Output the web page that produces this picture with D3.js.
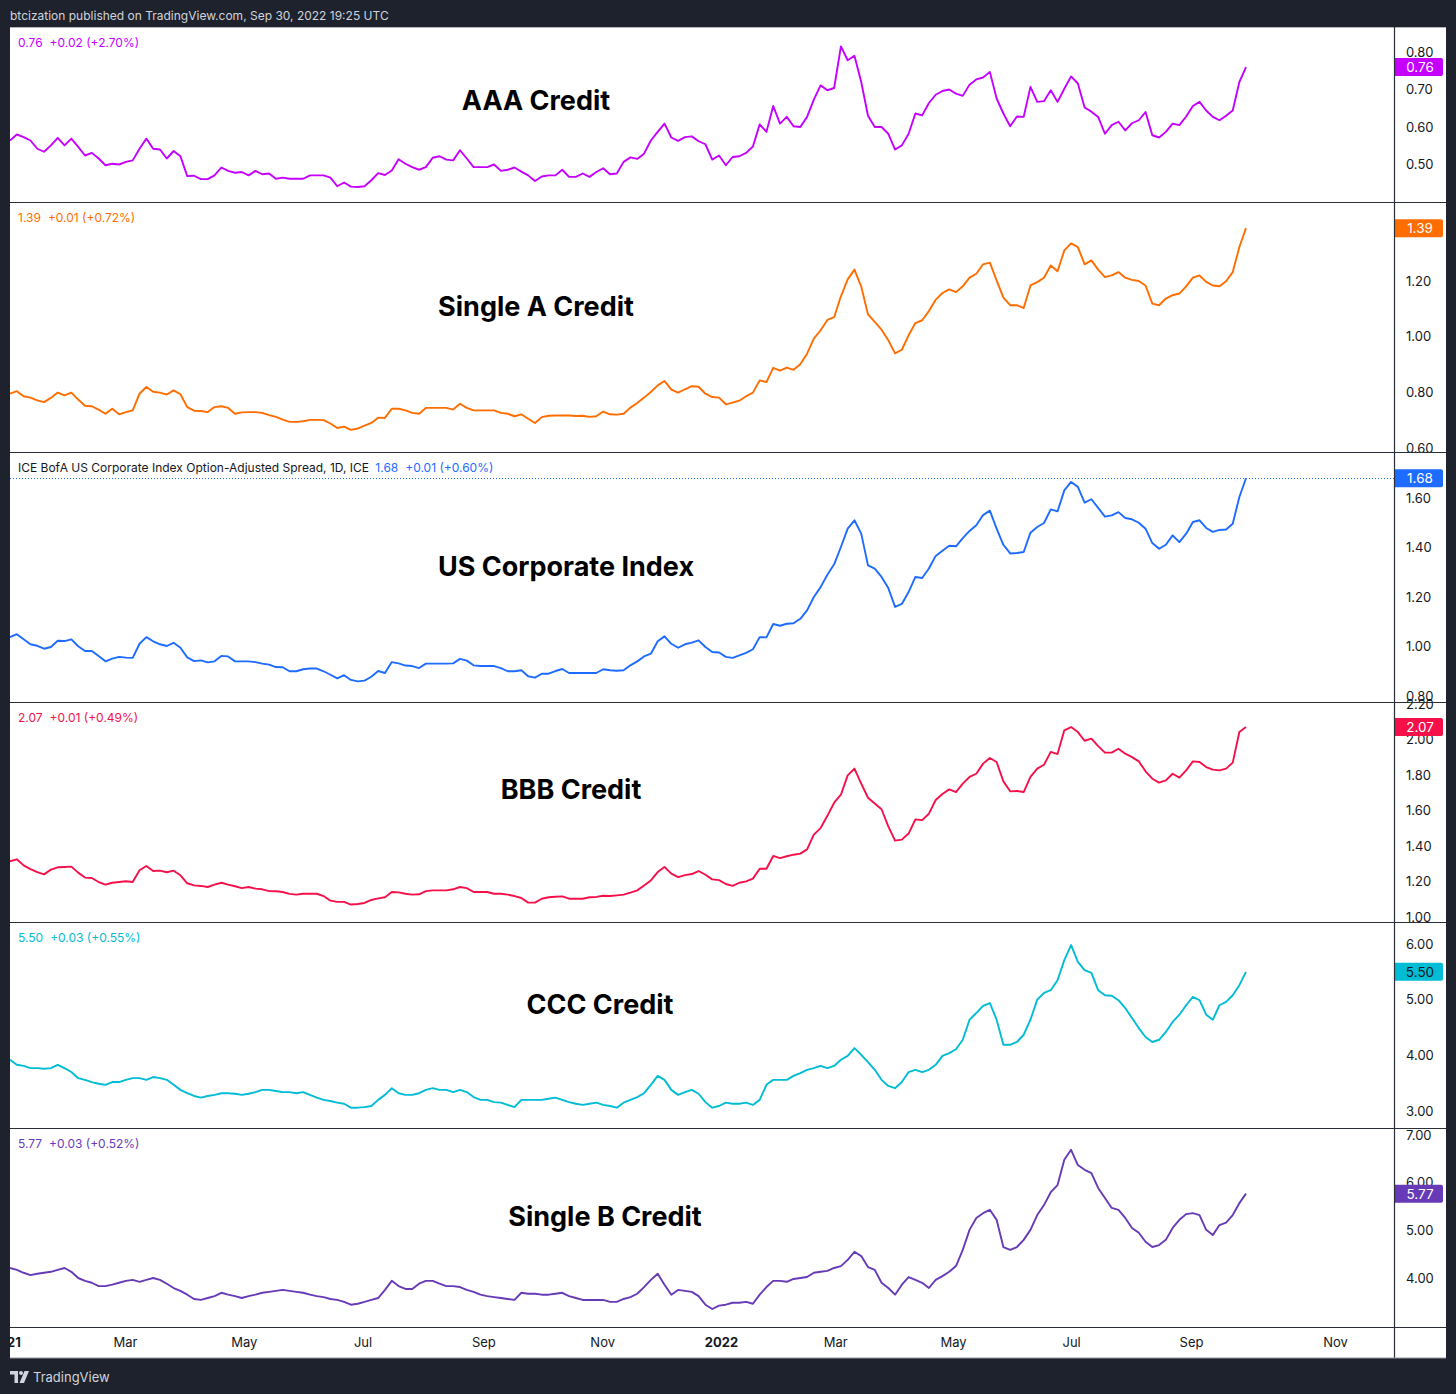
<!DOCTYPE html>
<html><head><meta charset="utf-8">
<script src="https://cdn.jsdelivr.net/npm/d3@7"></script>
<style>
body{margin:0;background:#1e222d;}
svg{display:block;font-family:Inter,"Noto Sans",sans-serif;}
</style>
</head><body>
<svg id="c" width="1456" height="1394"></svg>
<script>
// ---------- DATA ----------
// Readings on Fridays from 2021-01-01 (weekly) and readings half a week later (mid).
const firstDate = "2021-01-01";
const aaaWeek = [0.564,0.573,0.542,0.551,0.551,0.547,0.531,0.498,0.50,0.511,
0.569,0.54,0.536,0.469,0.461,0.471,0.483,0.48,0.483,0.476,
0.465,0.462,0.471,0.471,0.442,0.441,0.442,0.477,0.484,0.502,
0.486,0.518,0.513,0.538,0.493,0.493,0.483,0.492,0.471,0.468,
0.471,0.467,0.476,0.48,0.474,0.507,0.515,0.564,0.609,0.563,
0.575,0.554,0.524,0.52,0.531,0.607,0.656,0.627,0.60,0.673,
0.698,0.815,0.79,0.63,0.60,0.54,0.582,0.631,0.686,0.70,
0.683,0.727,0.747,0.636,0.628,0.707,0.669,0.667,0.735,0.652,
0.627,0.605,0.591,0.618,0.578,0.587,0.605,0.656,0.644,0.618,
0.644,0.76];
const aaaMid = [0.580,0.564,0.534,0.571,0.569,0.524,0.516,0.502,0.507,0.542,
0.542,0.516,0.522,0.470,0.461,0.492,0.478,0.471,0.474,0.462,
0.462,0.462,0.471,0.465,0.452,0.44,0.458,0.472,0.514,0.493,
0.493,0.522,0.511,0.516,0.493,0.50,0.486,0.481,0.456,0.471,
0.486,0.467,0.467,0.49,0.476,0.519,0.529,0.587,0.572,0.573,
0.562,0.513,0.498,0.522,0.548,0.587,0.609,0.602,0.627,0.711,
0.704,0.778,0.72,0.60,0.582,0.551,0.636,0.664,0.696,0.689,
0.713,0.732,0.676,0.602,0.627,0.667,0.698,0.702,0.716,0.641,
0.582,0.614,0.61,0.64,0.572,0.609,0.628,0.667,0.627,0.63,
0.72];
const singleAWeek = [0.795,0.786,0.771,0.78,0.789,0.774,0.75,0.723,0.721,0.735,
0.819,0.799,0.807,0.747,0.733,0.747,0.744,0.728,0.729,0.718,
0.702,0.694,0.701,0.70,0.672,0.665,0.68,0.709,0.741,0.735,
0.723,0.744,0.744,0.759,0.735,0.735,0.726,0.714,0.705,0.711,
0.717,0.717,0.716,0.714,0.721,0.723,0.762,0.801,0.841,0.799,
0.822,0.795,0.781,0.763,0.786,0.843,0.888,0.889,0.901,0.993,
1.06,1.145,1.241,1.08,1.025,0.94,1.005,1.059,1.133,1.17,
1.181,1.226,1.266,1.14,1.113,1.184,1.212,1.235,1.335,1.26,
1.241,1.22,1.212,1.20,1.119,1.137,1.155,1.212,1.197,1.181,
1.232,1.39];
const singleAMid = [0.804,0.781,0.765,0.799,0.799,0.752,0.738,0.741,0.729,0.795,
0.802,0.792,0.793,0.734,0.729,0.75,0.723,0.729,0.726,0.712,
0.694,0.696,0.701,0.688,0.677,0.67,0.69,0.708,0.741,0.726,
0.744,0.744,0.738,0.744,0.735,0.735,0.723,0.721,0.69,0.716,
0.717,0.715,0.712,0.731,0.72,0.745,0.781,0.825,0.81,0.811,
0.82,0.783,0.757,0.77,0.799,0.837,0.878,0.881,0.939,1.023,
1.07,1.206,1.18,1.053,0.987,0.953,1.049,1.092,1.157,1.16,
1.212,1.26,1.202,1.113,1.103,1.196,1.256,1.31,1.322,1.274,
1.214,1.232,1.204,1.184,1.113,1.149,1.181,1.22,1.184,1.199,
1.322];
const usCorpWeek = [1.038,1.029,1.003,0.998,1.022,1.001,0.982,0.94,0.958,0.954,
1.038,1.009,1.015,0.956,0.944,0.94,0.96,0.94,0.937,0.927,
0.916,0.90,0.911,0.90,0.871,0.865,0.862,0.901,0.937,0.923,
0.913,0.931,0.931,0.95,0.924,0.921,0.913,0.90,0.88,0.89,
0.901,0.893,0.893,0.893,0.904,0.904,0.94,0.971,1.041,0.995,
1.016,0.998,0.976,0.954,0.974,1.038,1.091,1.092,1.112,1.20,
1.29,1.402,1.51,1.328,1.281,1.16,1.22,1.277,1.366,1.407,
1.438,1.49,1.549,1.411,1.378,1.46,1.499,1.546,1.665,1.581,
1.56,1.53,1.519,1.50,1.418,1.411,1.422,1.503,1.479,1.471,
1.496,1.68];
const usCorpMid = [1.05,1.009,0.991,1.023,1.029,0.982,0.962,0.951,0.955,1.011,
1.021,1.002,0.995,0.941,0.936,0.962,0.94,0.94,0.931,0.917,
0.90,0.908,0.911,0.886,0.884,0.859,0.878,0.893,0.932,0.921,
0.931,0.931,0.932,0.943,0.921,0.921,0.90,0.904,0.874,0.89,
0.909,0.893,0.893,0.908,0.902,0.924,0.96,1.021,1.011,1.009,
1.025,0.978,0.958,0.964,0.989,1.037,1.084,1.094,1.146,1.24,
1.332,1.476,1.456,1.315,1.236,1.172,1.281,1.315,1.387,1.405,
1.467,1.531,1.476,1.376,1.382,1.483,1.554,1.631,1.645,1.595,
1.525,1.543,1.514,1.476,1.395,1.449,1.456,1.51,1.463,1.473,
1.604];
const bbbWeek = [1.314,1.291,1.253,1.267,1.282,1.25,1.22,1.182,1.197,1.197,
1.287,1.261,1.261,1.19,1.175,1.182,1.182,1.163,1.16,1.146,
1.141,1.126,1.131,1.118,1.085,1.07,1.079,1.105,1.141,1.131,
1.128,1.15,1.15,1.169,1.141,1.141,1.131,1.118,1.081,1.103,
1.114,1.103,1.103,1.113,1.118,1.126,1.15,1.206,1.282,1.225,
1.242,1.238,1.208,1.175,1.201,1.272,1.344,1.342,1.357,1.464,
1.57,1.689,1.836,1.672,1.607,1.43,1.47,1.546,1.659,1.719,
1.751,1.807,1.896,1.764,1.71,1.789,1.858,1.918,2.07,1.993,
1.963,1.926,1.92,1.877,1.779,1.77,1.785,1.877,1.845,1.826,
1.87,2.07];
const bbbMid = [1.325,1.27,1.24,1.28,1.284,1.222,1.197,1.193,1.201,1.263,
1.259,1.252,1.235,1.178,1.169,1.193,1.173,1.169,1.156,1.145,
1.13,1.131,1.131,1.092,1.085,1.073,1.096,1.111,1.139,1.126,
1.146,1.15,1.156,1.163,1.141,1.131,1.126,1.107,1.081,1.111,
1.116,1.103,1.111,1.12,1.122,1.137,1.178,1.253,1.244,1.236,
1.259,1.212,1.186,1.193,1.216,1.272,1.332,1.351,1.381,1.501,
1.644,1.798,1.751,1.639,1.511,1.436,1.55,1.582,1.693,1.704,
1.789,1.864,1.873,1.708,1.704,1.836,1.93,2.052,2.042,2.005,
1.926,1.948,1.901,1.821,1.757,1.807,1.826,1.873,1.83,1.836,
2.042];
const cccWeek = [3.92,3.81,3.77,3.77,3.77,3.59,3.52,3.47,3.52,3.59,
3.56,3.59,3.47,3.32,3.24,3.29,3.32,3.29,3.34,3.38,
3.34,3.32,3.29,3.2,3.15,3.06,3.07,3.2,3.41,3.29,
3.32,3.41,3.38,3.38,3.25,3.2,3.15,3.07,3.2,3.2,
3.24,3.16,3.11,3.15,3.09,3.15,3.25,3.47,3.56,3.29,
3.38,3.16,3.09,3.13,3.15,3.2,3.56,3.56,3.68,3.77,
3.77,3.92,4.13,3.88,3.56,3.41,3.70,3.70,3.83,4.04,
4.28,4.76,4.94,4.19,4.24,4.64,5.12,5.35,5.98,5.53,
5.17,5.07,4.85,4.49,4.24,4.42,4.73,5.05,4.73,4.9,
5.08,5.50];
const cccMid = [3.83,3.77,3.76,3.83,3.70,3.56,3.49,3.52,3.56,3.59,
3.61,3.56,3.38,3.27,3.27,3.32,3.31,3.31,3.38,3.36,
3.34,3.34,3.24,3.18,3.13,3.06,3.09,3.29,3.32,3.29,
3.38,3.38,3.34,3.34,3.2,3.16,3.11,3.2,3.2,3.22,
3.2,3.13,3.13,3.11,3.06,3.2,3.32,3.63,3.38,3.34,
3.31,3.06,3.15,3.13,3.11,3.47,3.56,3.63,3.74,3.81,
3.81,3.99,4.01,3.74,3.45,3.52,3.74,3.74,3.99,4.11,
4.64,4.89,4.64,4.19,4.37,5.0,5.17,5.71,5.68,5.48,
5.08,4.99,4.67,4.33,4.28,4.60,4.90,4.99,4.64,4.96,
5.26];
const singleBWeek = [4.21,4.11,4.09,4.13,4.21,4.0,3.9,3.83,3.9,3.96,
3.96,3.96,3.79,3.65,3.54,3.62,3.65,3.58,3.65,3.71,
3.75,3.71,3.65,3.6,3.54,3.44,3.5,3.58,3.94,3.77,
3.88,3.94,3.83,3.81,3.71,3.62,3.58,3.54,3.67,3.65,
3.67,3.62,3.54,3.54,3.5,3.56,3.67,3.96,3.86,3.75,
3.71,3.44,3.42,3.48,3.5,3.65,3.94,3.92,4.0,4.11,
4.15,4.25,4.55,4.23,3.9,3.65,4.02,3.9,3.96,4.13,
4.59,5.26,5.43,4.65,4.65,5.01,5.53,5.95,6.69,6.27,
5.89,5.47,5.26,4.95,4.65,4.80,5.22,5.36,5.01,5.11,
5.32,5.77];
const singleBMid = [4.17,4.06,4.11,4.17,4.13,3.94,3.83,3.86,3.94,3.92,
4.0,3.88,3.73,3.56,3.58,3.69,3.62,3.62,3.69,3.73,
3.73,3.69,3.62,3.56,3.5,3.46,3.54,3.75,3.83,3.77,
3.94,3.88,3.83,3.75,3.65,3.60,3.56,3.69,3.67,3.65,
3.69,3.58,3.54,3.54,3.5,3.6,3.81,4.09,3.65,3.73,
3.62,3.35,3.44,3.48,3.46,3.81,3.94,3.98,4.02,4.13,
4.21,4.38,4.46,4.17,3.79,3.86,3.96,3.79,4.04,4.25,
5.01,5.36,5.22,4.59,4.80,5.32,5.80,6.48,6.37,6.20,
5.68,5.43,5.05,4.76,4.69,5.05,5.34,5.32,4.90,5.16,
5.57];

const titles = ["AAA Credit","Single A Credit","US Corporate Index","BBB Credit","CCC Credit","Single B Credit"];
const legendChange = ["+0.02 (+2.70%)","+0.01 (+0.72%)","+0.01 (+0.60%)","+0.01 (+0.49%)","+0.03 (+0.55%)","+0.03 (+0.52%)"];
const yTicks = [[0.5,0.6,0.7,0.8],[0.6,0.8,1.0,1.2],[0.8,1.0,1.2,1.4,1.6],[1.0,1.2,1.4,1.6,1.8,2.0,2.2],[3,4,5,6],[4,5,6,7]];
const timeTicks = ["2021-01-01","2021-03-01","2021-05-01","2021-07-01","2021-09-01","2021-11-01","2022-01-01","2022-03-01","2022-05-01","2022-07-01","2022-09-01","2022-11-01"];
const mainName = "ICE BofA US Corporate Index Option-Adjusted Spread, 1D, ICE";
const header = "btcization published on TradingView.com, Sep 30, 2022 19:25 UTC";

// ---------- LAYOUT ----------
const parse = d3.timeParse("%Y-%m-%d");
const t0 = parse(firstDate);
function merge(week, mid) {
  const out = [];
  week.forEach((v, i) => {
    out.push({d: d3.timeDay.offset(t0, 7 * i), v: v});
    if (i < mid.length) out.push({d: d3.timeHour.offset(t0, 168 * i + 84), v: mid[i]});
  });
  return out;
}
const series = [merge(aaaWeek, aaaMid), merge(singleAWeek, singleAMid), merge(usCorpWeek, usCorpMid),
                merge(bbbWeek, bbbMid), merge(cccWeek, cccMid), merge(singleBWeek, singleBMid)];
const colors = ["#c600ff","#ff6d00","#1e6bff","#f5104a","#00bcd4","#673ab7"];
const boxText = ["#fff","#fff","#fff","#fff","#131722","#fff"];
const panes = [
  {top:27, bottom:202, dom:[0.40,0.8667], title:[536,100]},
  {top:202, bottom:452, dom:[0.5856,1.4839], title:[536,306]},
  {top:452, bottom:702, dom:[0.7758,1.7859], title:[566,566]},
  {top:702, bottom:922, dom:[0.9718,2.2113], title:[571,789]},
  {top:922, bottom:1128, dom:[2.695,6.395], title:[600,1004]},
  {top:1128, bottom:1327, dom:[2.972,7.147], title:[605,1216]}
];
const L = 10, R = 1394, RR = 1446;

const x = d3.scaleTime()
  .domain([parse("2021-01-01"), parse("2022-01-01"), parse("2022-09-01"), parse("2022-09-30"), parse("2022-11-01")])
  .range([10, 721, 1191, 1246, 1335]);

const svg = d3.select("#c");
svg.append("rect").attr("width",1456).attr("height",1394).attr("fill","#1e222d");
svg.append("text").attr("x",10).attr("y",19.5).attr("fill","#d1d4dc")
  .attr("font-size",12).text(header);
svg.append("rect").attr("x",L).attr("y",27).attr("width",RR-L).attr("height",1358-27).attr("fill","#ffffff");
svg.append("line").attr("x1",L).attr("x2",RR).attr("y1",27.5).attr("y2",27.5).attr("stroke","#b2b5be");

const defs = svg.append("defs");

panes.forEach((p, k) => {
  const y = d3.scaleLinear().domain(p.dom).range([p.bottom, p.top]);
  const data = series[k];
  const last = data[data.length - 1].v;
  const g = svg.append("g");
  defs.append("clipPath").attr("id","clip"+k).append("rect")
    .attr("x",L).attr("y",p.top).attr("width",R-L).attr("height",p.bottom-p.top);

  g.append("text").attr("x",p.title[0]).attr("y",p.title[1]+10).attr("text-anchor","middle")
    .attr("font-size",27).attr("font-weight",700).attr("fill","#000").text(titles[k]);

  if (k === 2) {
    const py = Math.round(y(last)) + 0.5;
    g.append("line").attr("x1",L).attr("x2",R).attr("y1",py).attr("y2",py)
      .attr("stroke",colors[k]).attr("stroke-width",1).attr("stroke-dasharray","1,2");
  }

  const line = d3.line().x(d => x(d.d)).y(d => y(d.v));
  g.append("path").datum(data).attr("clip-path","url(#clip"+k+")")
    .attr("d",line).attr("fill","none").attr("stroke",colors[k])
    .attr("stroke-width",1.9).attr("stroke-linejoin","round");

  const lg = g.append("text").attr("x",18).attr("y",p.top+20).attr("font-size",12);
  if (k === 2) lg.append("tspan").attr("fill","#131722").text(mainName + " ");
  lg.append("tspan").attr("fill",colors[k]).attr("dx", k===2?3:0).text(d3.format(".2f")(last));
  lg.append("tspan").attr("fill",colors[k]).attr("dx",7).text(legendChange[k]);

  const ax = d3.axisRight(y).tickValues(yTicks[k]).tickFormat(d3.format(".2f")).tickSize(0).tickPadding(12);
  const ag = svg.append("g").attr("transform",`translate(${R},0)`).call(ax);
  ag.select(".domain").remove();
  ag.selectAll("text").attr("font-size",13).attr("fill","#131722").attr("font-family","Inter,'Noto Sans',sans-serif");

  const ly = y(last);
  svg.append("path")
    .attr("d",`M${R+1},${ly-9} H${RR-5} Q${RR-3},${ly-9} ${RR-3},${ly-7} V${ly+7} Q${RR-3},${ly+9} ${RR-5},${ly+9} H${R+1} Z`)
    .attr("fill",colors[k]);
  svg.append("text").attr("x",1420).attr("y",ly+5).attr("text-anchor","middle")
    .attr("font-size",13.5).attr("fill",boxText[k]).text(d3.format(".2f")(last));
});

panes.forEach(p => {
  svg.append("line").attr("x1",L).attr("x2",RR).attr("y1",p.bottom+0.5).attr("y2",p.bottom+0.5)
    .attr("stroke","#2a2e39").attr("stroke-width",1.2);
});
svg.append("line").attr("x1",R+0.5).attr("x2",R+0.5).attr("y1",27).attr("y2",1358)
  .attr("stroke","#2a2e39").attr("stroke-width",1.2);
svg.append("line").attr("x1",L).attr("x2",RR).attr("y1",1358).attr("y2",1358)
  .attr("stroke","#9598a1").attr("stroke-width",1);

// time axis
defs.append("clipPath").attr("id","clipT").append("rect").attr("x",L).attr("y",1328).attr("width",R-L).attr("height",30);
const tg = svg.append("g").attr("clip-path","url(#clipT)").append("g").attr("transform","translate(0,1336)");
const xa = d3.axisBottom(x).tickValues(timeTicks.map(parse)).tickSize(0).tickPadding(2)
  .tickFormat(d => d.getMonth() === 0 ? d3.timeFormat("%Y")(d) : d3.timeFormat("%b")(d));
tg.call(xa);
tg.select(".domain").remove();
tg.selectAll("text").attr("font-size",13).attr("fill","#131722").attr("font-family","Inter,'Noto Sans',sans-serif")
  .attr("font-weight", d => d.getMonth() === 0 ? 700 : 400)
  .attr("dx", d => (d.getFullYear() === 2021 && d.getMonth() === 0) ? -5 : 0);

// footer logo
const f = svg.append("g").attr("fill","#d1d4dc");
f.append("path").attr("d","M10,1371 H18 V1383 H14.5 V1374.5 H10 Z");
f.append("circle").attr("cx",21).attr("cy",1373).attr("r",2);
f.append("path").attr("d","M24.5,1371 H29 L24,1383 H19.5 Z");
f.append("text").attr("x",33).attr("y",1382).attr("font-size",13).attr("fill","#d1d4dc").text("TradingView");
</script>
</body></html>
